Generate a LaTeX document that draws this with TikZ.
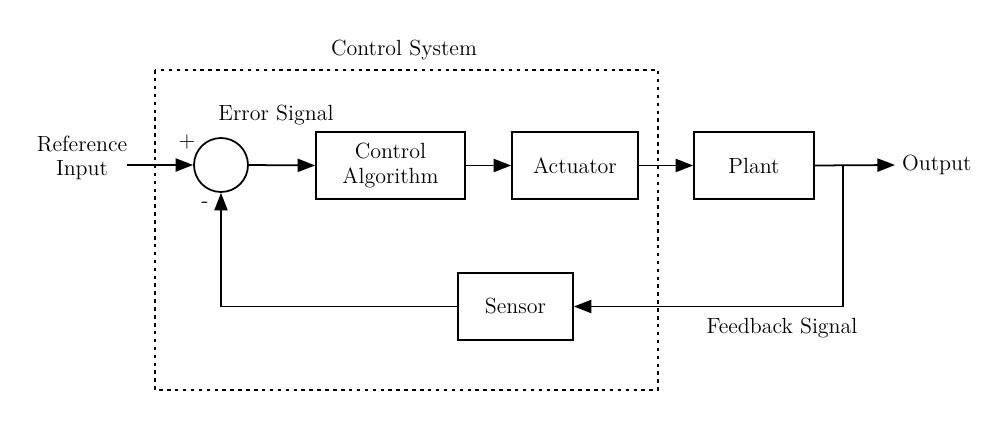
\documentclass[tikz,border=0pt]{standalone}
\usetikzlibrary{arrows.meta}
\begin{document}
\begin{tikzpicture}[x=0.02cm,y=-0.02cm,
  every node/.style={font=\fontsize{12.5}{14}\selectfont},
  blk/.style={draw,line width=1pt,minimum width=2.1cm,minimum height=1.34cm,inner sep=0pt,align=center},
  arr/.style={line width=1pt,-{Triangle[length=10pt,width=7.5pt]}},
  lbl/.style={align=center,inner sep=1pt}]
\useasboundingbox (0,0) rectangle (998,422);
\draw[line width=1pt,dash pattern=on 2pt off 2.5pt] (155,70) rectangle (658,390);
\node[lbl] (cs) at (404,50) {Control System};
\node[draw,circle,line width=1pt,minimum size=1.08cm,inner sep=0pt] (sum) at (221,165) {};
\node[lbl] (ref) at (82,158) {Reference\\Input};
\coordinate (rin) at (127,165);
\node[lbl] (plus) at (187,142) {+};
\node[lbl] (minus) at (205,205) {-};
\node[lbl] (err) at (276,115) {Error Signal};
\node[blk,minimum width=2.98cm] (ca) at (390.5,165.5) {Control\\Algorithm};
\node[blk,minimum width=2.52cm] (act) at (575,165.5) {Actuator};
\node[blk,minimum width=2.4cm] (pl) at (754,165.5) {Plant};
\node[blk,minimum width=2.3cm] (sen) at (515.5,306.5) {Sensor};
\node[lbl,anchor=west] (out) at (900,165) {Output};
\node[lbl] (fb) at (782,328) {Feedback Signal};
\coordinate (br) at (843,165);
\coordinate (oe) at (895,165);
\draw[arr] (rin) -- (sum.west);
\draw[arr] (sum.east) -- (ca.west);
\draw[arr] (ca.east) -- (act.west);
\draw[arr] (act.east) -- (pl.west);
\draw[arr] (pl.east) -- (oe);
\draw[arr] (br) |- (sen.east);
\draw[arr] (sen.west) -| (sum.south);
\end{tikzpicture}
\end{document}
